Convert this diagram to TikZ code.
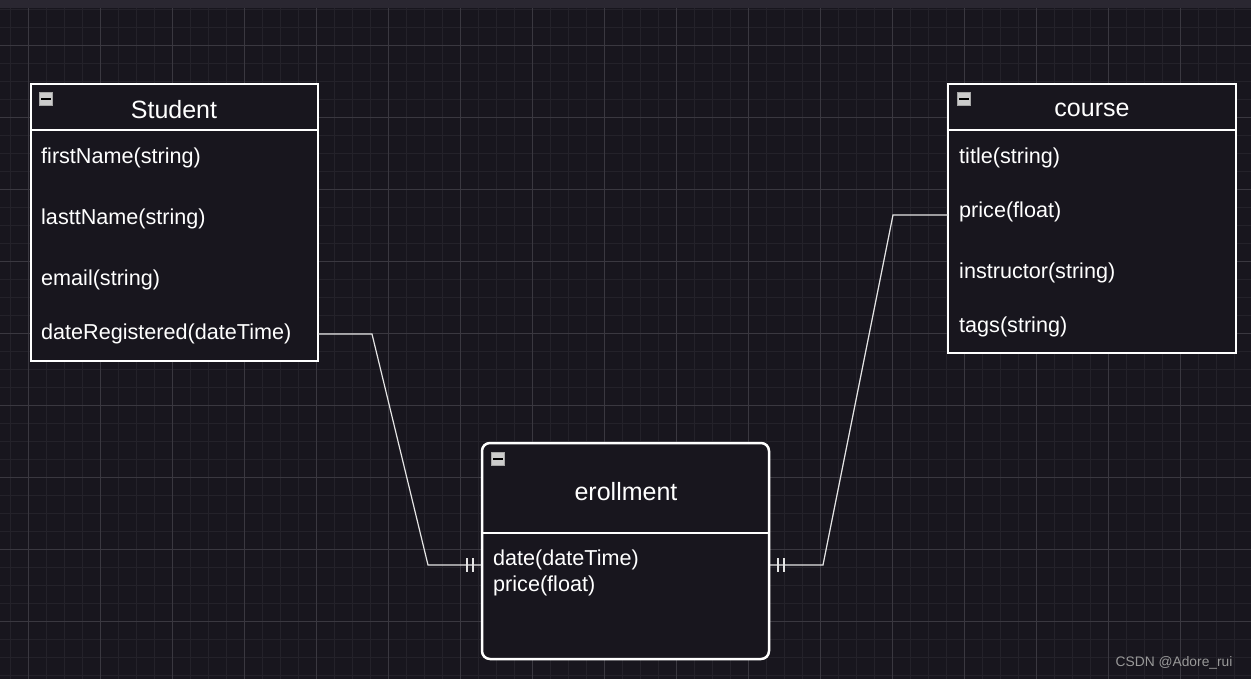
\documentclass[tikz,border=0pt]{standalone}
\usepackage{fontspec}
\setmainfont{Liberation Sans}
\begin{document}
\begin{tikzpicture}[x=1pt,y=-1pt,
  attr/.style={anchor=west,text=white,font=\fontsize{21.6}{24}\selectfont,inner sep=0},
  ttl/.style={text=white,font=\fontsize{25}{28}\selectfont,inner sep=0},
  ent/.style={draw=white,line width=1.5pt,fill=bgc},
  conn/.style={draw=white!90!black,line width=1.2pt},
  icon/.style={draw=gray!70,fill=gray!40,minimum size=13pt,inner sep=0,line width=1pt}]
\definecolor{bgc}{HTML}{18161E}
\definecolor{barc}{HTML}{2A2731}
\definecolor{minc}{HTML}{24222A}
\definecolor{majc}{HTML}{3A3840}
\useasboundingbox (0,0) rectangle (1251,679);
\fill[bgc] (0,0) rectangle (1251,679);
\foreach \x in {10,28,...,1250} \draw[minc,line width=0.8pt] (\x,8)--(\x,679);
\foreach \y in {9,27,...,679} \draw[minc,line width=0.8pt] (0,\y)--(1251,\y);
\foreach \x in {28,100,...,1250} \draw[majc,line width=0.8pt] (\x,8)--(\x,679);
\foreach \y in {45,117,...,679} \draw[majc,line width=0.8pt] (0,\y)--(1251,\y);
\fill[barc] (0,0) rectangle (1251,8);
% Student
\draw[ent] (31,84) rectangle (318,361);
\draw[white,line width=1.5pt] (31,130)--(318,130);
\node[icon] (si) at (46,99) {}; \draw[black,line width=1.3pt] (41,99)--(51,99);
\node[ttl] (st) at (174,110) {Student};
\node[attr] (s1) at (41,158) {firstName(string)};
\node[attr] (s2) at (41,219) {lasttName(string)};
\node[attr] (s3) at (41,280) {email(string)};
\node[attr] (s4) at (41,334) {dateRegistered(dateTime)};
% course
\draw[ent] (948,84) rectangle (1236,353);
\draw[white,line width=1.5pt] (948,130)--(1236,130);
\node[icon] (ci) at (964,99) {}; \draw[black,line width=1.3pt] (959,99)--(969,99);
\node[ttl] (ct) at (1092,110) {course};
\node[attr] (c1) at (959,158) {title(string)};
\node[attr] (c2) at (959,212) {price(float)};
\node[attr] (c3) at (959,273) {instructor(string)};
\node[attr] (c4) at (959,327) {tags(string)};
% enrollment
\draw[ent,line width=2.5pt,rounded corners=8pt] (482,443) rectangle (769,659);
\draw[white,line width=2.5pt] (482,533)--(769,533);
\node[icon] (ei) at (498,459) {}; \draw[black,line width=1.3pt] (493,459)--(503,459);
\node[ttl] (et) at (626,492) {erollment};
\node[attr] (e1) at (493,560) {date(dateTime)};
\node[attr] (e2) at (493,586) {price(float)};
\coordinate (sa) at (318,334); \coordinate (ea) at (481,565);
\coordinate (ca) at (948,215); \coordinate (eb) at (770,565);
\draw[conn] (sa)--(372,334)--(428,565)--(ea);
\draw[conn] (eb)--(823,565)--(893,215)--(ca);
\draw[conn] (467,558)--(467,572) (473,558)--(473,572);
\draw[conn] (778,558)--(778,572) (784,558)--(784,572);
\node[text=gray!80,font=\fontsize{13.8}{16}\selectfont,anchor=east] (wm) at (1236,663) {CSDN @Adore\_rui};
\end{tikzpicture}
\end{document}
